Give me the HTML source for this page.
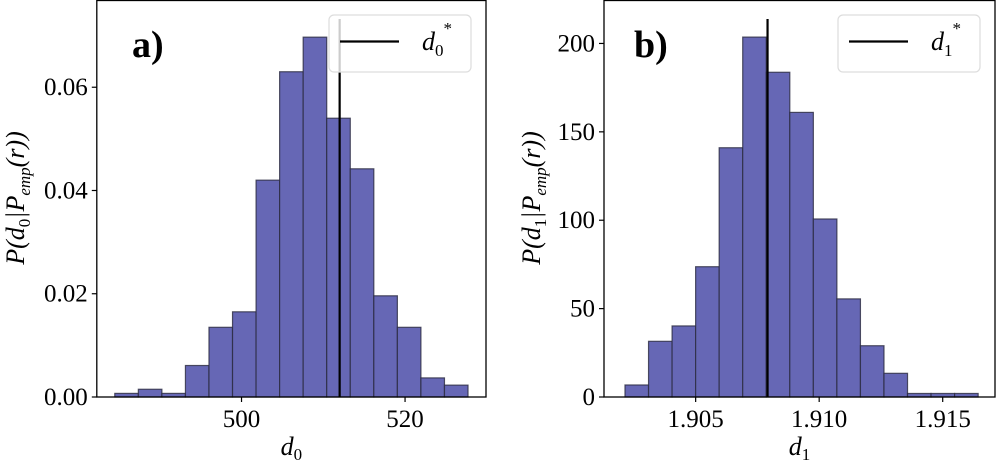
<!DOCTYPE html>
<html><head><meta charset="utf-8"><style>
body{margin:0;background:#fff}
svg{display:block;font-family:"Liberation Serif",serif}
</style></head><body>
<svg id="c" width="997" height="465" viewBox="0 0 997 465"></svg>
<script>
// Panel a data
const aEdges0 = 484.5, aBinW = 2.88;
const aValues = [0.0007,0.0015,0.0007,0.0061,0.0135,0.0165,0.042,0.063,0.0697,0.054,0.0442,0.0196,0.0135,0.0037,0.0023];
const aYTicks = [0,0.02,0.04,0.06];
const aYLabels = ["0.00","0.02","0.04","0.06"];
const aXTicks = [500,520];
const aXLabels = ["500","520"];
const aStar = 512.0;
// Panel b data
const bEdges0 = 1.90214, bBinW = 0.000953;
const bValues = [6.8,31.5,40.2,73.7,141,203.6,183.7,161,100.7,55.5,29,13.4,2,2,2];
const bYTicks = [0,50,100,150,200];
const bYLabels = ["0","50","100","150","200"];
const bXTicks = [1.905,1.910,1.915];
const bXLabels = ["1.905","1.910","1.915"];
const bStar = 1.90791;

const NS="http://www.w3.org/2000/svg";
const svg=document.getElementById('c');
function mk(tag,attrs,parent){const e=document.createElementNS(NS,tag);for(const k in attrs)e.setAttribute(k,attrs[k]);(parent||svg).appendChild(e);return e;}

function panel(o){
  const g=mk('g',{});
  
  
  const L=o.left,R=o.right,T=0.5,B=397;
  const sx=v=>L+(v-o.xmin)/(o.xmax-o.xmin)*(R-L);
  const sy=v=>B-(v-o.ymin)/(o.ymax-o.ymin)*(B-T);
  o.values.forEach((v,i)=>{
    const x0=sx(o.e0+i*o.bw),x1=sx(o.e0+(i+1)*o.bw);
    const r=mk('rect',{x:x0,y:sy(v),width:x1-x0,height:B-sy(v),fill:'#6667b5',stroke:'#2a2a40','stroke-width':1.2,'stroke-opacity':0.8},g);
    
    
  });
  const vl=mk('line',{x1:sx(o.star),x2:sx(o.star),y1:19,y2:B,stroke:'#000','stroke-width':2.2},g);
  
  
  const fr=mk('rect',{x:L,y:T,width:R-L,height:B-T,fill:'none',stroke:'#000','stroke-width':1.3},g);
  
  
  o.yt.forEach((v,i)=>{
    mk('line',{x1:L-5,x2:L,y1:sy(v),y2:sy(v),stroke:'#000','stroke-width':1.2},g);
    const t=mk('text',{x:L-9,y:sy(v)+8,'text-anchor':'end','font-size':25},g);
    t.textContent=o.yl[i];
    
    
  });
  o.xt.forEach((v,i)=>{
    mk('line',{x1:sx(v),x2:sx(v),y1:B,y2:B+5,stroke:'#000','stroke-width':1.2},g);
    const t=mk('text',{x:sx(v),y:B+30,'text-anchor':'middle','font-size':25},g);
    t.textContent=o.xl[i];
    
    
  });
  const lg=mk('g',{},g);
  
  
  const lx=R-157;
  mk('rect',{x:lx,y:15,width:142,height:57,rx:5,fill:'#fff','fill-opacity':0.8,stroke:'#ddd','stroke-width':1.2},lg);
  mk('line',{x1:lx+11,x2:lx+70,y1:41.5,y2:41.5,stroke:'#000','stroke-width':2.2},lg);
  const lt=mk('text',{x:lx+93,y:50,'font-size':26,'font-style':'italic'},lg);
  lt.innerHTML='d<tspan font-size="17" font-style="normal" dy="6">'+o.sub+'</tspan><tspan font-size="17" font-style="normal" dy="-22">*</tspan>';
  
  
  const pl=mk('text',{x:o.plx,y:57,'font-size':38,'font-weight':'bold'},g);
  pl.textContent=o.panel;
  
  
  const xl=mk('text',{x:(L+R)/2,y:455,'text-anchor':'middle','font-size':26,'font-style':'italic'},g);
  xl.innerHTML='d<tspan font-size="17" font-style="normal" dy="5">'+o.sub+'</tspan>';
  
  
  const yl=mk('text',{x:0,y:0,'text-anchor':'middle','font-size':26,'font-style':'italic',transform:'translate('+o.ylx+',198) rotate(-90)'},g);
  yl.innerHTML='P(d<tspan font-size="17" font-style="normal" dy="6">'+o.sub+'</tspan><tspan dy="-6">|P</tspan><tspan font-size="17" dy="6">emp</tspan><tspan dy="-6">(r))</tspan>';
  
  
}
panel({name:'panel-a',left:96.8,right:486,xmin:482.3,xmax:529.9,ymin:0,ymax:0.0768,e0:aEdges0,bw:aBinW,values:aValues,yt:aYTicks,yl:aYLabels,xt:aXTicks,xl:aXLabels,star:aStar,sub:'0',panel:'a)',plx:132,ylx:24});
panel({name:'panel-b',left:604,right:995,xmin:1.90129,xmax:1.917117,ymin:0,ymax:224.3,e0:bEdges0,bw:bBinW,values:bValues,yt:bYTicks,yl:bYLabels,xt:bXTicks,xl:bXLabels,star:bStar,sub:'1',panel:'b)',plx:634,ylx:540});
</script>
</body></html>
